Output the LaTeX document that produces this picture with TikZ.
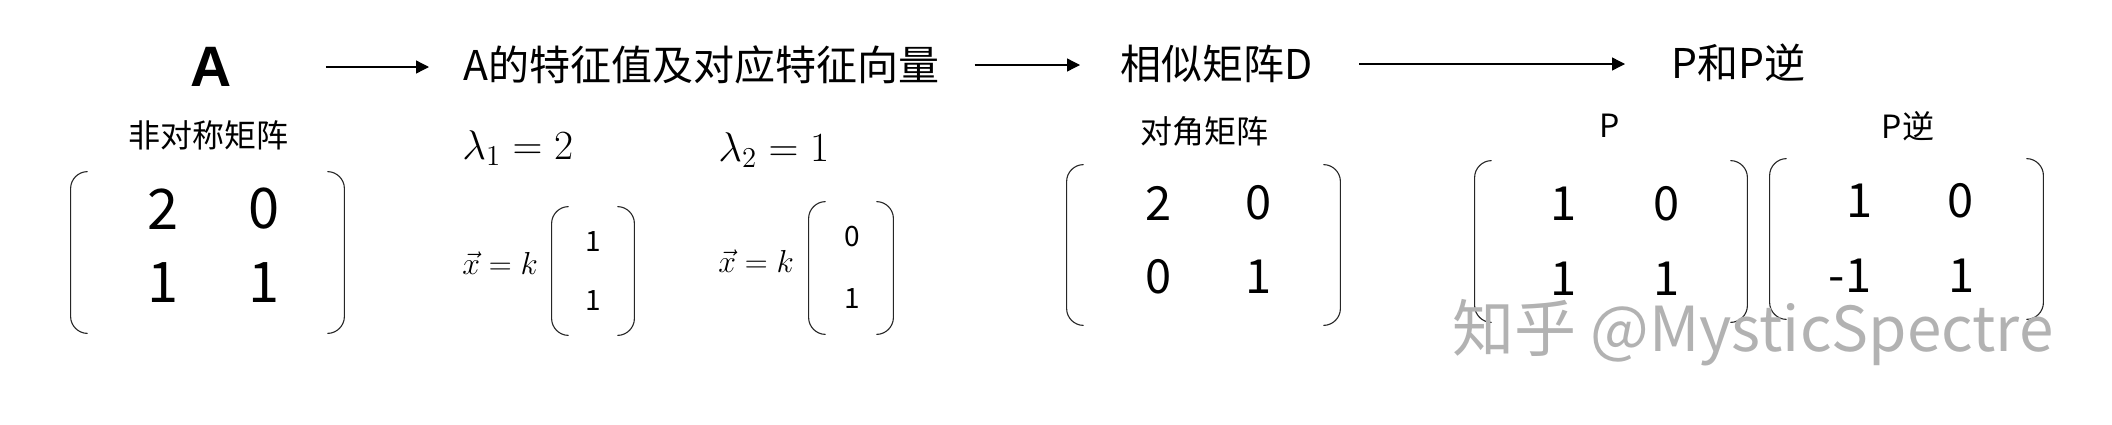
\documentclass[tikz,border=0pt]{standalone}
\usepackage{graphicx}
\usepackage{fontspec}
\setmainfont{Noto Sans CJK SC}
\newfontfamily\latinbold{Liberation Sans}
\usetikzlibrary{arrows.meta, positioning}

% round parentheses drawn on the two sides of a box node
\newcommand{\drawparens}[1]{%
  \draw[paren] ([xshift=8.5pt]#1.north west) -- (#1.north west)
               -- (#1.south west) -- ([xshift=8.5pt]#1.south west);
  \draw[paren] ([xshift=-8.5pt]#1.north east) -- (#1.north east)
               -- (#1.south east) -- ([xshift=-8.5pt]#1.south east);
}
% eigenvector prefix, math scaled to fit
\newcommand{\vecprefix}{\scalebox{0.92}{$\vec{x} = k$}}

\begin{document}
\begin{tikzpicture}[
  x=0.5pt, y=-0.5pt,
  title/.style={inner sep=0pt, font=\fontsize{20.5pt}{24pt}\selectfont},
  sub/.style={inner sep=0pt, font=\fontsize{16pt}{19pt}\selectfont},
  bigdigit/.style={inner sep=0pt, font=\fontsize{28pt}{32pt}\selectfont},
  digit/.style={inner sep=0pt, font=\fontsize{23.5pt}{27pt}\selectfont},
  smalldigit/.style={inner sep=0pt, font=\fontsize{14pt}{17pt}\selectfont},
  eigval/.style={inner sep=0pt, font=\fontsize{21.5pt}{25pt}\selectfont},
  eigvec/.style={inner sep=0pt, font=\fontsize{17.28pt}{20pt}\selectfont},
  box/.style={inner sep=0pt, draw=none},
  paren/.style={line width=0.55pt, color=black!85, rounded corners=8.5pt},
  arr/.style={-{Triangle[length=6.5pt, width=6.5pt]}, line width=0.65pt},
  watermark/.style={inner sep=0pt, text=black!30, font=\fontsize{31pt}{36pt}\selectfont},
]
\useasboundingbox[fill=white] (0,0) rectangle (2112,424);

% headings
\node[inner sep=0pt, font=\fontsize{28.5pt}{32pt}\latinbold\bfseries] (A) at (211,67) {A};
\node[title, anchor=west] (eig)  at (463,65)  {A的特征值及对应特征向量};
\node[title, anchor=west] (sim)  at (1120,64) {相似矩阵D};
\node[title, anchor=west] (pinv) at (1671,63) {P和P逆};

% sub labels
\node[sub] (asub) at (208,135)  {非对称矩阵};
\node[sub] (dsub) at (1204,131) {对角矩阵};
\node[sub] (psub) at (1610,126) {P};
\node[sub] (qsub) at (1908,126) {P逆};

% matrix A
\node[box, minimum width=136.5pt, minimum height=80.5pt] (MA) at (207.5,252.5) {};
\drawparens{MA}
\node[bigdigit] (a11) at (163,209) {2};
\node[bigdigit] (a12) at (264,209) {0};
\node[bigdigit] (a21) at (163,283) {1};
\node[bigdigit] (a22) at (264,283) {1};

% eigenvalues and eigenvectors
\node[eigval, anchor=base west] (lam1) at (462,159) {$\lambda_1 = 2$};
\node[eigval, anchor=base west] (lam2) at (718,161) {$\lambda_2 = 1$};
\node[eigvec, anchor=base west] (xk1) at (462,274) {\vecprefix};
\node[eigvec, anchor=base west] (xk2) at (718,272) {\vecprefix};

\node[box, minimum width=41pt, minimum height=64pt] (V1) at (593,271) {};
\drawparens{V1}
\node[smalldigit] (v11) at (593,242) {1};
\node[smalldigit] (v12) at (593,301) {1};

\node[box, minimum width=42pt, minimum height=66pt] (V2) at (851,268) {};
\drawparens{V2}
\node[smalldigit] (v21) at (852,237) {0};
\node[smalldigit] (v22) at (852,299) {1};

% matrix D
\node[box, minimum width=136.5pt, minimum height=80pt] (MD) at (1203.5,245) {};
\drawparens{MD}
\node[digit] (d11) at (1159,203) {2};
\node[digit] (d12) at (1259,203) {0};
\node[digit] (d21) at (1159,277) {0};
\node[digit] (d22) at (1259,277) {1};

% matrix P
\node[box, minimum width=136pt, minimum height=80.5pt] (MP) at (1611,241.5) {};
\drawparens{MP}
\node[digit] (p11) at (1564,204) {1};
\node[digit] (p12) at (1667,204) {0};
\node[digit] (p21) at (1564,279) {1};
\node[digit] (p22) at (1667,279) {1};

% matrix P inverse
\node[box, minimum width=136.5pt, minimum height=80pt] (MQ) at (1906.5,239) {};
\drawparens{MQ}
\node[digit] (q11) at (1860,201) {1};
\node[digit] (q12) at (1961,201) {0};
\node[digit] (q21) at (1850,276) {-1};
\node[digit] (q22) at (1962,276) {1};

% watermark
\node[watermark] (wm) at (1753,333) {知乎 @MysticSpectre};

% arrows
\draw[arr, shorten <=47pt, shorten >=17pt] (A.east) -- (A.east -| eig.west);
\draw[arr, shorten <=17.5pt, shorten >=20pt] (eig.east) -- (eig.east -| sim.west);
\draw[arr, shorten <=23pt, shorten >=23pt] (sim.east) -- (sim.east -| pinv.west);

\end{tikzpicture}
\end{document}
